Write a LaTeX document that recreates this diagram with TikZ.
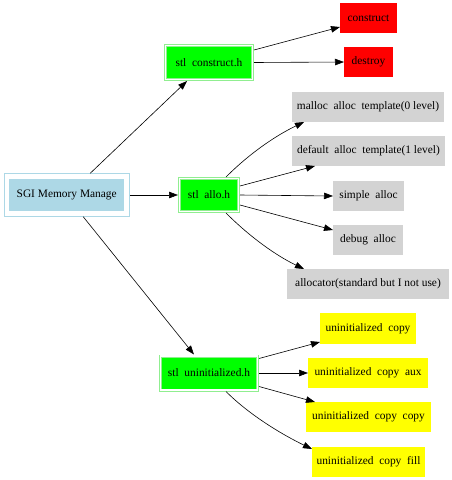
\documentclass[tikz,border=0pt]{standalone}
\usepackage{fontspec}
\setmainfont{Liberation Serif}
\usetikzlibrary{arrows.meta}
\definecolor{lgreen}{HTML}{90EE90}
\definecolor{fgreen}{HTML}{00FF00}
\definecolor{lblue}{HTML}{ADD8E6}
\definecolor{lgray}{HTML}{D3D3D3}
\definecolor{fyellow}{HTML}{FFFF00}
\definecolor{fred}{HTML}{FF0000}
\newcommand{\ugap}{\hspace{0.5em}}
\begin{document}
\begin{tikzpicture}[x=1pt,y=-1pt,
  every node/.style={font=\fontsize{11.4}{13}\selectfont, inner sep=0pt, align=center},
  rootbox/.style={fill=lblue, draw=lblue, line width=1pt, double=white, double distance=4.7pt, outer sep=3.35pt, minimum width=119.7pt, minimum height=36.7pt},
  hbox/.style={fill=fgreen, draw=lgreen, line width=0.8pt, double=white, double distance=1.4pt, outer sep=1.5pt, minimum height=34pt},
  redbox/.style={fill=fred, minimum height=30pt, outer sep=0pt},
  graybox/.style={fill=lgray, minimum height=30pt, outer sep=0pt},
  yelbox/.style={fill=fyellow, minimum height=30pt, outer sep=0pt},
  edge/.style={line width=0.6pt, -{Triangle[length=9pt,width=6.5pt]}}
]
\useasboundingbox (0,0) rectangle (452,480);

\node[rootbox] (root) at (66.7,195) {SGI Memory Manage};
\node[hbox, minimum width=87pt] (cons) at (209,62.5) {stl\ugap construct.h};
\node[hbox, minimum width=59pt, minimum height=33pt] (allo) at (209,195) {stl\ugap allo.h};
\node[hbox, minimum width=97pt] (unin) at (209,373) {stl\ugap uninitialized.h};

\node[redbox, minimum width=57pt] (construct) at (368.5,18) {construct};
\node[redbox, minimum width=49pt] (destroy) at (368.5,62) {destroy};

\node[graybox, minimum width=152pt] (malloc) at (368,107) {malloc\ugap alloc\ugap template(0 level)};
\node[graybox, minimum width=153pt] (default) at (368.5,151) {default\ugap alloc\ugap template(1 level)};
\node[graybox, minimum width=71pt] (simple) at (368.5,196) {simple\ugap alloc};
\node[graybox, minimum width=70pt] (debug) at (368,240) {debug\ugap alloc};
\node[graybox, minimum width=162pt] (allocator) at (368,284) {allocator(standard but I not use)};

\node[yelbox, minimum width=96pt, minimum height=31pt] (ucopy) at (368,328.5) {uninitialized\ugap copy};
\node[yelbox, minimum width=120pt] (uaux) at (368,373) {uninitialized\ugap copy\ugap aux};
\node[yelbox, minimum width=125pt] (ucc) at (368.5,417) {uninitialized\ugap copy\ugap copy};
\node[yelbox, minimum width=113pt] (ufill) at (368.5,462) {uninitialized\ugap copy\ugap fill};

\draw[edge] ([xshift=23.5pt]root.north) -- ([xshift=-22pt]cons.south);
\draw[edge] (root.east) -- (allo.west);
\draw[edge] ([xshift=16.5pt]root.south) -- ([xshift=-15pt]unin.north);

\draw[edge] ([yshift=12.5pt]cons.east) -- ([yshift=-9pt]construct.west);
\draw[edge] (cons.east) -- (destroy.west);

\draw[edge] ([xshift=17pt]allo.north) .. controls +(25,-25) and +(-27,13) .. ([xshift=12pt]malloc.south west);
\draw[edge] ([yshift=9pt]allo.east) -- ([xshift=23pt]default.south west);
\draw[edge] (allo.east) -- (simple.west);
\draw[edge] ([yshift=-10pt]allo.east) -- ([yshift=10pt]debug.west);
\draw[edge] ([xshift=17pt]allo.south) .. controls +(25,25) and +(-27,-13) .. ([xshift=17pt]allocator.north west);

\draw[edge] ([yshift=-4pt]unin.north east) -- ([yshift=2pt]ucopy.south west);
\draw[edge] (unin.east) -- (uaux.west);
\draw[edge] ([yshift=5pt]unin.south east) -- ([xshift=9pt]ucc.north west);
\draw[edge] ([xshift=17pt]unin.south) .. controls +(25,25) and +(-27,-13) .. ([yshift=-2pt]ufill.north west);
\end{tikzpicture}
\end{document}
